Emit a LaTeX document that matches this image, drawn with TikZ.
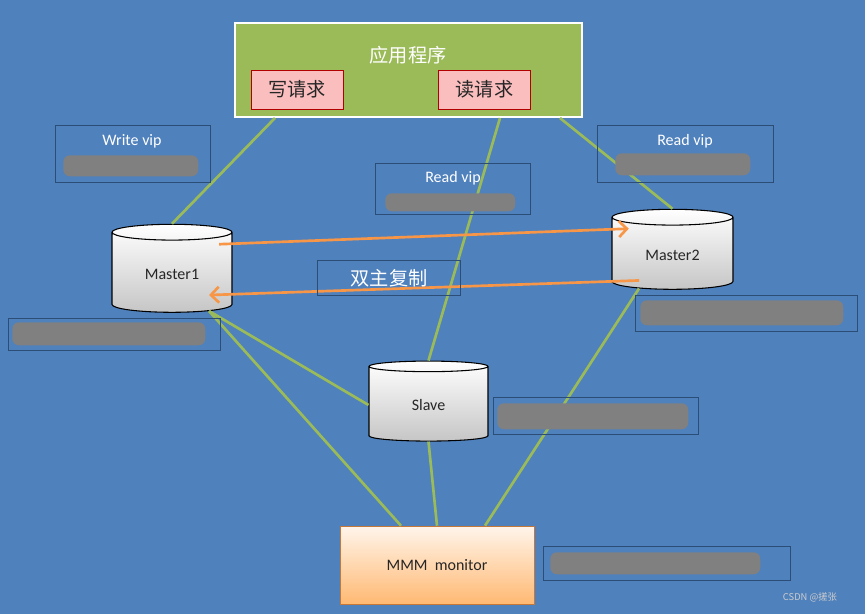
\documentclass[tikz,border=0pt]{standalone}
\usepackage{fontspec}
\setmainfont{Carlito}
\newfontfamily\cjk{Noto Sans CJK SC}
\usetikzlibrary{shapes.geometric,arrows.meta}
\definecolor{bgblue}{RGB}{79,129,189}
\definecolor{boxline}{RGB}{44,77,117}
\definecolor{appgreen}{RGB}{155,187,89}
\definecolor{linkgreen}{RGB}{155,187,89}
\definecolor{reqpink}{RGB}{250,190,190}
\definecolor{arrorange}{RGB}{247,150,70}
\tikzset{
  db/.style={cylinder, shape border rotate=90, aspect=0.25, draw=black, thick,
    top color=white, bottom color=gray!45, minimum width=#1*0.75pt,
    font=\large, text=black!85},
  vip/.style={draw=boxline, thick, anchor=north west},
  bar/.style={fill=gray, rounded corners=5pt, anchor=north west},
  link/.style={draw=linkgreen, line width=2pt},
  repl/.style={draw=arrorange, line width=2pt, -{Straight Barb[length=6pt,width=12pt]}},
  req/.style={draw=red!70!black, fill=reqpink, minimum width=92*0.75pt,
    minimum height=39*0.75pt, font=\cjk\Large, text=black!85}
}
\begin{document}
\begin{tikzpicture}[x=0.75pt,y=-0.75pt]
  \fill[bgblue] (0,0) rectangle (865,614);
  \useasboundingbox (0,0) rectangle (865,614);
  % application
  \node[draw=white, line width=2pt, fill=appgreen, minimum width=347*0.75pt,
    minimum height=94*0.75pt] (app) at (408.5,70) {};
  \node[font=\cjk\Large, text=white] (apptitle) at (408,55) {应用程序};
  \node[req] (write req) at (297,89.5) {写请求};
  \node[req] (read req) at (484.5,89.5) {读请求};
  \coordinate (app a) at (275,118);
  \coordinate (app b) at (500,118);
  \coordinate (app c) at (560,118);
  % databases
  \node[db=120, minimum height=88*0.75pt] (master1) at (172,274) {Master1};
  \node[db=121, minimum height=80*0.75pt] (master2) at (672.5,255) {Master2};
  \node[db=119, minimum height=80*0.75pt] (slave) at (428.5,405) {Slave};
  \node[draw=arrorange!80!black, top color=orange!8, bottom color=orange!55,
    minimum width=194*0.75pt, minimum height=78*0.75pt, font=\large, text=black!85]
    (monitor) at (437,565) {MMM\ \ monitor};
  % links
  \draw[link] (app a) -- (master1.north);
  \draw[link] (app b) -- (slave.north);
  \draw[link] (app c) -- (master2.north);
  \draw[link] (master1.south east) -- (slave.west);
  \draw[link] (master1.south east) -- ([xshift=-27pt]monitor.north);
  \draw[link] (slave.south) -- (monitor.north);
  \draw[link] (master2.south west) -- ([xshift=36pt]monitor.north);
  % replication
  \draw[repl] ([yshift=-13pt]master1.north east) -- ([yshift=-13pt]master2.north west);
  \draw[repl] ([yshift=6pt]master2.south west) -- ([yshift=12pt]master1.south east);
  \node[vip, minimum width=143*0.75pt, minimum height=35*0.75pt, font=\cjk\Large,
    text=white] (dual) at (317,260) {双主复制};
  % vip boxes
  \node[vip, minimum width=155*0.75pt, minimum height=57*0.75pt] (write vip box) at (55,125) {};
  \node[text=white, font=\large] (write vip) at (132,141) {Write vip};
  \node[bar, minimum width=135*0.75pt, minimum height=21*0.75pt] (write vip bar) at (63,155) {};
  \node[vip, minimum width=176*0.75pt, minimum height=57*0.75pt] (read vip box) at (597,125) {};
  \node[text=white, font=\large] (read vip) at (685,141) {Read vip};
  \node[bar, minimum width=135*0.75pt, minimum height=22*0.75pt] (read vip bar) at (615,153) {};
  \node[vip, minimum width=155*0.75pt, minimum height=51*0.75pt] (slave vip box) at (375,163) {};
  \node[text=white, font=\large] (slave vip) at (453,178) {Read vip};
  \node[bar, minimum width=130*0.75pt, minimum height=18*0.75pt] (slave vip bar) at (385,193) {};
  % address boxes
  \node[vip, minimum width=212*0.75pt, minimum height=32*0.75pt] (m1 box) at (8,318) {};
  \node[bar, minimum width=193*0.75pt, minimum height=23*0.75pt] (m1 bar) at (12,322) {};
  \node[vip, minimum width=222*0.75pt, minimum height=36*0.75pt] (m2 box) at (635,295) {};
  \node[bar, minimum width=203*0.75pt, minimum height=25*0.75pt] (m2 bar) at (640,300) {};
  \node[vip, minimum width=205*0.75pt, minimum height=37*0.75pt] (slave box) at (493,397) {};
  \node[bar, minimum width=191*0.75pt, minimum height=26*0.75pt] (slave bar) at (497,403) {};
  \node[vip, minimum width=247*0.75pt, minimum height=34*0.75pt] (mon box) at (543,546) {};
  \node[bar, minimum width=210*0.75pt, minimum height=22*0.75pt] (mon bar) at (550,552) {};
  \node[text=gray!40, font=\cjk\scriptsize] (mark) at (810,597) {CSDN @搓张};
\end{tikzpicture}
\end{document}
